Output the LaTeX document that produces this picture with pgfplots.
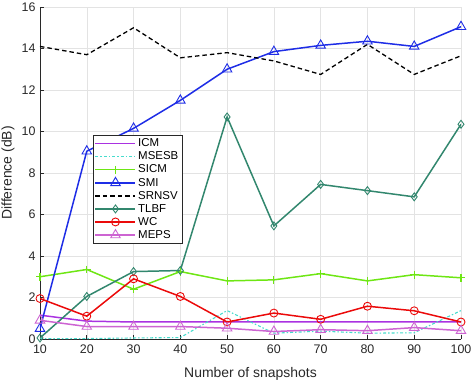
\documentclass[border=0pt]{standalone}
\usepackage{pgfplots}
\pgfplotsset{compat=1.18}
\usepackage{fontspec}
\setmainfont{Liberation Sans}
\definecolor{cICM}{RGB}{170,50,225}
\definecolor{cMSESB}{RGB}{70,220,205}
\definecolor{cSICM}{RGB}{110,230,20}
\definecolor{cSMI}{RGB}{30,45,230}
\definecolor{cTLBF}{RGB}{50,135,110}
\definecolor{cWC}{RGB}{235,10,10}
\definecolor{cMEPS}{RGB}{205,100,210}
\definecolor{axgray}{RGB}{40,40,40}
\pgfplotsset{LL/.style={legend image code/.code={%
    \draw[mark repeat=2,mark phase=2] plot coordinates {(0bp,0bp) (20bp,0bp) (40bp,0bp)};}}}
\begin{document}
\begin{tikzpicture}
\path[use as bounding box] (-40bp,-43bp) rectangle (434bp,339bp);
\begin{axis}[
  at={(0,0)}, anchor=origin,
  scale only axis, width=421bp, height=332bp,
  xmin=10, xmax=100, ymin=0, ymax=16,
  xtick={10,20,...,100}, ytick={0,2,...,16},
  axis x line*=bottom, axis y line*=left,
  axis line style={axgray, line width=0.6pt},
  every tick/.style={axgray, line width=0.6pt},
  tick align=inside, major tick length=4bp,
  grid=major, major grid style={gray!22, line width=0.5pt},
  tick label style={font=\fontsize{12.5}{14}\selectfont, text=axgray},
  xticklabel style={yshift=-2bp},
  yticklabel style={xshift=-1bp},
  /pgf/number format/assume math mode=true,
  xlabel={Number of snapshots}, ylabel={Difference (dB)},
  label style={font=\fontsize{14}{16}\selectfont, text=axgray},
  xlabel style={at={(0.5,0)}, anchor=north, yshift=-25bp},
  ylabel style={at={(0,0.5)}, anchor=south, yshift=22bp},
  legend style={at={(0.126,0.614)}, anchor=north west, font=\fontsize{11.5}{13}\selectfont,
    draw=axgray, inner sep=1.5pt, row sep=-0.4pt, cells={anchor=west}},
  legend cell align=left,
  every axis plot/.append style={line width=1.5pt},
  mark size=4pt,
]
\addplot[color=cICM, draw=cICM, mark=none, LL] coordinates {(10,1.15) (20,0.86) (30,0.82) (40,0.82) (50,0.82) (60,0.82) (70,0.82) (80,0.82) (90,0.82) (100,0.82)};
\addlegendentry{ICM}
\addplot[color=cMSESB, draw=cMSESB, dash dot, mark=none, line width=1.1pt, LL] coordinates {(10,0.02) (20,0.02) (30,0.05) (40,0.07) (50,1.37) (60,0.28) (70,0.38) (80,0.28) (90,0.3) (100,1.37)};
\addlegendentry{MSESB}
\addplot[color=cSICM, draw=cSICM, mark=+, mark options={solid, line width=1.2pt}, LL] coordinates {(10,3.0) (20,3.35) (30,2.4) (40,3.25) (50,2.8) (60,2.85) (70,3.15) (80,2.8) (90,3.1) (100,2.95)};
\addlegendentry{SICM}
\addplot[color=cSMI, draw=cSMI, mark=triangle, mark size=5.5pt, mark options={solid, line width=0.9pt}, LL] coordinates {(10,0.5) (20,9.05) (30,10.15) (40,11.5) (50,13.0) (60,13.85) (70,14.15) (80,14.35) (90,14.1) (100,15.05)};
\addlegendentry{SMI}
\addplot[color=black, draw=black, dash pattern=on 4.5pt off 3pt, mark=none, line width=1.3pt, LL] coordinates {(10,14.1) (20,13.7) (30,15.0) (40,13.55) (50,13.8) (60,13.4) (70,12.75) (80,14.2) (90,12.75) (100,13.65)};
\addlegendentry{SRNSV}
\addplot[color=cTLBF, draw=cTLBF, mark=diamond, mark options={solid, line width=0.9pt}, LL] coordinates {(10,0.05) (20,2.05) (30,3.25) (40,3.3) (50,10.7) (60,5.45) (70,7.45) (80,7.15) (90,6.85) (100,10.35)};
\addlegendentry{TLBF}
\addplot[color=cWC, draw=cWC, mark=o, mark options={solid, line width=0.9pt}, LL] coordinates {(10,1.95) (20,1.1) (30,2.9) (40,2.05) (50,0.82) (60,1.25) (70,0.95) (80,1.58) (90,1.36) (100,0.82)};
\addlegendentry{WC}
\addplot[color=cMEPS, draw=cMEPS, mark=triangle, mark size=5.5pt, mark options={solid, line width=0.9pt}, LL] coordinates {(10,0.9) (20,0.6) (30,0.6) (40,0.6) (50,0.52) (60,0.36) (70,0.45) (80,0.4) (90,0.55) (100,0.4)};
\addlegendentry{MEPS}
\end{axis}
\end{tikzpicture}
\end{document}
